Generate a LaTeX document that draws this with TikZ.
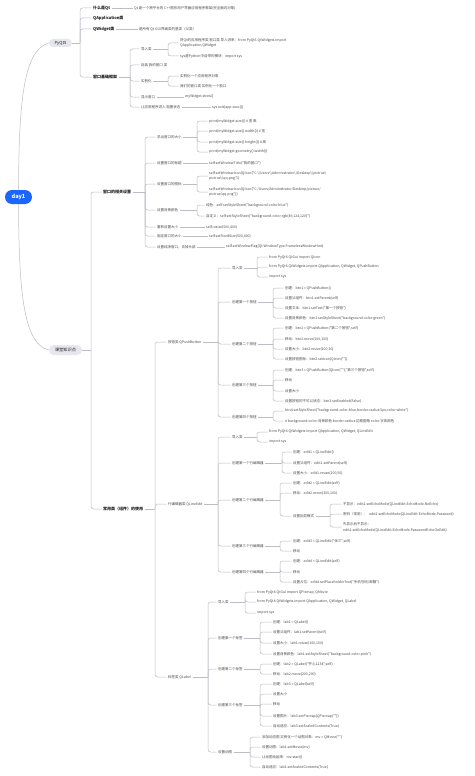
\documentclass[tikz,border=0pt]{standalone}
\usepackage{fontspec}
\setmainfont{Noto Sans CJK SC}
\newfontfamily\nf{Noto Sans CJK SC}
\usetikzlibrary{calc}
\definecolor{lc}{HTML}{BDBDC6}
\definecolor{tc}{HTML}{4A4A4A}
\definecolor{tb}{HTML}{1F1F1F}
\definecolor{pg}{HTML}{E6E6EE}
\definecolor{bl}{HTML}{1A66FF}
\newcommand\bsl{\textbackslash}
\newcommand\fork[3]{%
  \coordinate (fx) at (#2,0);
  \draw[conn] (#1.east) -- (#1.east -| fx) coordinate (fj);
  \foreach \ch in {#3} {\draw[conn,rounded corners=2.5pt] (fj) |- (\ch.west);}%
}
\tikzset{
  conn/.style={draw=lc, line width=0.5pt},
  lf/.style={anchor=west, inner xsep=1.5pt, inner ysep=0.5pt, xshift=-1.5pt, align=left,
    font=\nf\fontsize{3.5}{5.8}\selectfont, text=tc},
  l2/.style={lf, font=\nf\bfseries\fontsize{4}{5}\selectfont, text=tb},
  pill/.style={fill=pg, rounded corners=4pt, inner sep=0pt, font=\nf\fontsize{4.2}{5}\selectfont, text=tb},
  root/.style={fill=bl, text=white, font=\nf\bfseries\fontsize{5.5}{6}\selectfont, rounded corners=7pt,
    minimum width=27pt, minimum height=14pt, inner sep=0pt}
}
\begin{document}
\begin{tikzpicture}[x=1pt,y=-1pt]
\fill[white] (0,0) rectangle (474,776);
\useasboundingbox (0,0) rectangle (474,776);

% root and level 1
\node[root] (day1) at (18.5,197) {day1};
\node[pill, minimum width=23pt, minimum height=8pt] (pyqt) at (60.5,43) {PyQt5};
\node[pill, minimum width=33pt, minimum height=10pt, rounded corners=5pt] (ktzs) at (65.5,350) {课堂知识点};
\draw[conn] (day1.north) .. controls (19,110) and (22,50) .. (pyqt.west);
\draw[conn] (day1.south) .. controls (19,284) and (22,344) .. (ktzs.west);

% PyQt5 branch
\node[l2] (qt) at (93,8) {什么是Qt};
\node[l2] (qapp) at (93,18) {QApplication类};
\node[l2] (qw) at (93,29) {QWidget类};
\node[l2] (kj) at (93,77) {窗口基础框架};
\fork{pyqt}{80}{qt,qapp,qw,kj}
\node[lf] (qtd) at (134,8) {Qt 是一个跨平台的 C++图形用户界面应用程序框架(完全面向对象)};
\draw[conn] (qt.east) -- (qtd.west);
\node[lf] (qwd) at (139,29) {是所有 Qt GUI界面类的基类（父类）};
\draw[conn] (qw.east) -- (qwd.west);

\node[lf] (dr1) at (141,49) {导入类};
\node[lf] (fz) at (141,65) {封装 我的窗口 类};
\node[lf] (slh) at (141,81) {实例化};
\node[lf] (xs) at (141,97) {显示窗口};
\node[lf] (zs) at (141,107) {让应用程序进入 阻塞状态};
\fork{kj}{130}{dr1,fz,slh,xs,zs}
\node[lf] (dr1a) at (180,43) {将Qt的应用程序类 窗口类 导入进来：from PyQt5.QtWidgets import\\QApplication,QWidget};
\node[lf] (dr1b) at (180,56) {sys是Python中自带的模块：import sys};
\fork{dr1}{168}{dr1a,dr1b}
\node[lf] (slha) at (180,76) {实例化一个应用程序对象};
\node[lf] (slhb) at (180,86) {我们的窗口类 实例化一个窗口};
\fork{slh}{168}{slha,slhb}
\node[lf] (xsa) at (185,97) {myWidget.show()};
\draw[conn] (xs.east) -- (xsa.west);
\node[lf] (zsa) at (212,107) {sys.exit(app.exec())};
\draw[conn] (zs.east) -- (zsa.west);

% 课堂知识点
\node[l2] (ck) at (103,192) {窗口的相关设置};
\node[l2] (cy) at (103,509) {常用类（组件）的使用};
\fork{ktzs}{91}{ck,cy}

\node[lf] (c1) at (157,137) {求出窗口的大小};
\node[lf] (c2) at (157,163) {设置窗口的标题};
\node[lf] (c3) at (157,184) {设置窗口的图标};
\node[lf] (c4) at (157,210) {设置背景颜色};
\node[lf] (c5) at (157,227) {重新设置大小};
\node[lf] (c6) at (157,236) {固定窗口的大小};
\node[lf] (c7) at (157,247) {设置纯净窗口，去掉头部};
\fork{ck}{145}{c1,c2,c3,c4,c5,c6,c7}

\node[lf] (c1a) at (209,121) {print(myWidget.size()) \# 宽 高};
\node[lf] (c1b) at (209,131) {print(myWidget.size().width()) \# 宽};
\node[lf] (c1c) at (209,142) {print(myWidget.size().height()) \# 高};
\node[lf] (c1d) at (209,152) {print(myWidget.geometry().width())};
\fork{c1}{197}{c1a,c1b,c1c,c1d}
\node[lf] (c2a) at (209,163) {self.setWindowTitle("我的窗口")};
\draw[conn] (c2.east) -- (c2a.west);
\node[lf] (c3a) at (209,176) {self.setWindowIcon(QIcon("C:\bsl\bsl Users\bsl\bsl Administrator\bsl\bsl Desktop\bsl\bsl pictrue\bsl\\pictrue\bsl\bsl qq.png"))};
\node[lf] (c3b) at (209,192) {self.setWindowIcon(QIcon("C:/Users/Administrator/Desktop/pictrue/\\pictrue/qq.png"))};
\fork{c3}{197}{c3a,c3b}
\node[lf] (c4a) at (206,205) {纯色：self.setStyleSheet("background-color:blue")};
\node[lf] (c4b) at (206,216) {自定义：self.setStyleSheet("background-color:rgb(49,124,120)")};
\fork{c4}{197}{c4a,c4b}
\node[lf] (c5a) at (206,227) {self.resize(500,400)};
\draw[conn] (c5.east) -- (c5a.west);
\node[lf] (c6a) at (209,236) {self.setFixedSize(500,400)};
\draw[conn] (c6.east) -- (c6a.west);
\node[lf] (c7a) at (226,247) {self.setWindowFlag(Qt.WindowType.FramelessWindowHint)};
\draw[conn] (c7.east) -- (c7a.west);

% 常用类
\node[lf] (pb) at (168,342) {按钮类 QPushButton};
\node[lf] (le) at (168,504) {行编辑器类 QLineEdit};
\node[lf] (lb) at (168,677) {标签类 QLabel};
\fork{cy}{155}{pb,le,lb}

% QPushButton
\node[lf] (pb1) at (232,268) {导入类};
\node[lf] (pb2) at (232,302) {创建第一个按钮};
\node[lf] (pb3) at (232,344) {创建第二个按钮};
\node[lf] (pb4) at (232,385) {创建第三个按钮};
\node[lf] (pb5) at (232,417) {创建第四个按钮};
\fork{pb}{218}{pb1,pb2,pb3,pb4,pb5}
\node[lf] (pb1a) at (269,257) {from PyQt6.QtGui import QIcon};
\node[lf] (pb1b) at (269,267) {from PyQt6.QtWidgets import QApplication, QWidget, QPushButton};
\node[lf] (pb1c) at (269,277) {import sys};
\fork{pb1}{257}{pb1a,pb1b,pb1c}
\node[lf] (pb2a) at (285,288) {创建：btn1 = QPushButton()};
\node[lf] (pb2b) at (285,298) {设置父组件：btn1.setParent(self)};
\node[lf] (pb2c) at (285,308) {设置文本：btn1.setText("第一个按钮")};
\node[lf] (pb2d) at (285,318) {设置背景颜色：btn1.setStyleSheet("background-color:green")};
\fork{pb2}{273}{pb2a,pb2b,pb2c,pb2d}
\node[lf] (pb3a) at (285,328) {创建：btn2 = QPushButton("第二个按钮",self)};
\node[lf] (pb3b) at (285,339) {移动：btn2.move(100,100)};
\node[lf] (pb3c) at (285,349) {设置大小：btn2.resize(100,30)};
\node[lf] (pb3d) at (285,359) {设置按钮图标：btn2.setIcon(QIcon(""))};
\fork{pb3}{273}{pb3a,pb3b,pb3c,pb3d}
\node[lf] (pb4a) at (285,370) {创建：btn3 = QPushButton(QIcon(""),"第三个按钮",self)};
\node[lf] (pb4b) at (285,380) {移动};
\node[lf] (pb4c) at (285,391) {设置大小};
\node[lf] (pb4d) at (285,401) {设置按钮的不可以状态：btn3.setEnabled(False)};
\fork{pb4}{273}{pb4a,pb4b,pb4c,pb4d}
\node[lf] (pb5a) at (285,411) {btn4.setStyleSheet("background-color:blue;border-radius:5px;color:white")};
\node[lf] (pb5b) at (285,421) {\# background-color:背景颜色 border-radius:边框圆角 color:字体颜色};
\fork{pb5}{273}{pb5a,pb5b}

% QLineEdit
\node[lf] (le1) at (232,437) {导入类};
\node[lf] (le2) at (232,463) {创建第一个行编辑器};
\node[lf] (le3) at (232,500) {创建第二个行编辑器};
\node[lf] (le4) at (232,546) {创建第三个行编辑器};
\node[lf] (le5) at (232,572) {创建第四个行编辑器};
\fork{le}{218}{le1,le2,le3,le4,le5}
\node[lf] (le1a) at (269,432) {from PyQt6.QtWidgets import QApplication, QWidget, QLineEdit};
\node[lf] (le1b) at (269,442) {import sys};
\fork{le1}{257}{le1a,le1b}
\node[lf] (le2a) at (293,452) {创建：edit1 = QLineEdit()};
\node[lf] (le2b) at (293,463) {设置父组件：edit1.setParent(self)};
\node[lf] (le2c) at (293,473) {设置大小：edit1.resize(200,50)};
\fork{le2}{282}{le2a,le2b,le2c}
\node[lf] (le3a) at (293,483) {创建：edit2 = QLineEdit(self)};
\node[lf] (le3b) at (293,493) {移动：edit2.move(300,100)};
\node[lf] (hx) at (293,516) {设置回显模式};
\fork{le3}{280}{le3a,le3b,hx}
\node[lf] (hxa) at (343,504) {不显示：edit2.setEchoMode(QLineEdit.EchoMode.NoEcho)};
\node[lf] (hxb) at (343,514) {密码（常用）：\ \ edit2.setEchoMode(QLineEdit.EchoMode.Password)};
\node[lf] (hxc) at (343,527) {先显示后不显示：\\edit2.setEchoMode(QLineEdit.EchoMode.PasswordEchoOnEdit)};
\fork{hx}{330}{hxa,hxb,hxc}
\node[lf] (le4a) at (293,541) {创建：edit3 = QLineEdit("张三",self)};
\node[lf] (le4b) at (293,551) {移动};
\fork{le4}{280}{le4a,le4b}
\node[lf] (le5a) at (293,561) {创建：edit4 = QLineEdit(self)};
\node[lf] (le5b) at (293,572) {移动};
\node[lf] (le5c) at (293,582) {设置占位：edit4.setPlaceholderText("手机号码/邮箱")};
\fork{le5}{280}{le5a,le5b,le5c}

% QLabel
\node[lf] (lb1) at (218,602) {导入类};
\node[lf] (lb2) at (218,638) {创建第一个标签};
\node[lf] (lb3) at (218,669) {创建第二个标签};
\node[lf] (lb4) at (218,705) {创建第三个标签};
\node[lf] (lb5) at (218,752) {设置动图};
\fork{lb}{208}{lb1,lb2,lb3,lb4,lb5}
\node[lf] (lb1a) at (257,592) {from PyQt6.QtGui import QPixmap, QMovie};
\node[lf] (lb1b) at (257,602) {from PyQt6.QtWidgets import QApplication, QWidget, QLabel};
\node[lf] (lb1c) at (257,613) {import sys};
\fork{lb1}{245}{lb1a,lb1b,lb1c}
\node[lf] (lb2a) at (273,622) {创建：lab1 = QLabel()};
\node[lf] (lb2b) at (273,632) {设置父组件：lab1.setParent(self)};
\node[lf] (lb2c) at (273,643) {设置大小：lab1.resize(100,100)};
\node[lf] (lb2d) at (273,654) {设置背景颜色：lab1.setStyleSheet("background-color:pink")};
\fork{lb2}{260}{lb2a,lb2b,lb2c,lb2d}
\node[lf] (lb3a) at (273,664) {创建：lab2 = QLabel("开心1234",self)};
\node[lf] (lb3b) at (273,674) {移动：lab2.move(200,200)};
\fork{lb3}{260}{lb3a,lb3b}
\node[lf] (lb4a) at (273,684) {创建：lab3 = QLabel(self)};
\node[lf] (lb4b) at (273,694) {设置大小};
\node[lf] (lb4c) at (273,704) {移动};
\node[lf] (lb4d) at (273,716) {设置图片：lab3.setPixmap(QPixmap(""))};
\node[lf] (lb4e) at (273,726) {自动适应：lab3.setScaledContents(True)};
\fork{lb4}{260}{lb4a,lb4b,lb4c,lb4d,lb4e}
\node[lf] (lb5a) at (262,737) {添加动态图 实例化一个动图对象：mv = QMovie("")};
\node[lf] (lb5b) at (262,747) {设置动图：lab1.setMovie(mv)};
\node[lf] (lb5c) at (262,757) {让动图动起来：mv.start()};
\node[lf] (lb5d) at (262,767) {自动适应：lab1.setScaledContents(True)};
\fork{lb5}{250}{lb5a,lb5b,lb5c,lb5d}
\end{tikzpicture}
\end{document}
